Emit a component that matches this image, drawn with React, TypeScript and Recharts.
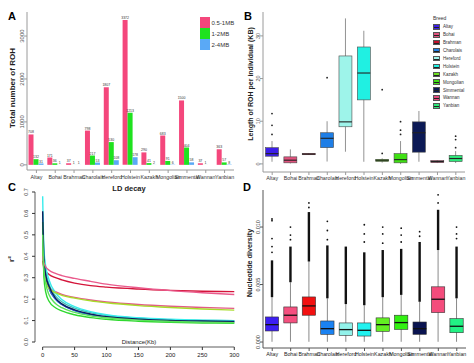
import React from 'react';
import {
  BarChart, Bar, XAxis, YAxis, LabelList, Legend,
  ComposedChart, LineChart, Line, ReferenceLine,
} from 'recharts';

const FONT = '"Liberation Sans", Arial, sans-serif';

const breeds = ['Altay', 'Bohai', 'Brahman', 'Charolais', 'Hereford', 'Holstein', 'Kazakh', 'Mongolian', 'Simmental', 'Wannan', 'Yanbian'];

// A - total number of ROH per length class
const rohClasses = ['0.5-1MB', '1-2MB', '2-4MB'];
const roh05to1 = [708, 171, 37, 798, 1807, 3372, 290, 683, 1500, 37, 363];
const roh1to2 = [132, 36, 1, 217, 530, 1213, 41, 91, 404, 1, 57];
const roh2to4 = [31, 1, 1, 53, 108, 178, 2, 6, 58, 0, 8];
const rohTicks = [0, 1000, 2000, 3000];

// B - length of ROH per individual (box stats)
const lenLow = [0.5, 0.1, 2.1, 0.55, 2.85, 0.5, 0.3, 0, 0.5, 0.2, 0.2];
const lenQ1 = [1.8, 0.25, 2.15, 3.8, 8.7, 15.0, 0.6, 0.25, 2.75, 0.3, 0.55];
const lenMed = [2.4, 0.87, 2.3, 6.0, 9.85, 21.3, 0.85, 1.0, 7.3, 0.55, 1.26];
const lenQ3 = [3.8, 1.65, 2.45, 7.3, 25.3, 27.4, 1.05, 2.4, 9.85, 0.8, 2.0];
const lenHigh = [5.35, 3.4, 2.5, 10, 34.1, 31.2, 1.3, 5.35, 12.4, 0.9, 3.0];
const lenOutliers = [[6.9, 9.05, 11.8], [], [], [20.2], [], [], [2.45, 17.4], [6.9, 7.9, 9.9], [], [], [3.8, 5.7, 6.5]];
const lenTicks = [0, 10, 20, 30];

// C - LD decay
const distances = [0, 2, 5, 10, 20, 30, 50, 75, 100, 150, 200, 250, 300];
const ldAltay = [0.55, 0.37, 0.30, 0.25, 0.20, 0.175, 0.148, 0.128, 0.117, 0.106, 0.100, 0.096, 0.094];
const ldBohai = [0.42, 0.33, 0.28, 0.255, 0.235, 0.222, 0.208, 0.196, 0.187, 0.175, 0.167, 0.161, 0.157];
const ldBrahman = [0.38, 0.35, 0.33, 0.315, 0.30, 0.29, 0.275, 0.263, 0.256, 0.247, 0.241, 0.237, 0.235];
const ldCharolais = [0.52, 0.36, 0.30, 0.25, 0.20, 0.175, 0.147, 0.128, 0.117, 0.106, 0.100, 0.097, 0.095];
const ldHereford = [0.60, 0.41, 0.33, 0.27, 0.215, 0.188, 0.158, 0.137, 0.124, 0.111, 0.104, 0.101, 0.099];
const ldHolstein = [0.68, 0.43, 0.35, 0.29, 0.23, 0.198, 0.165, 0.142, 0.127, 0.113, 0.106, 0.102, 0.100];
const ldKazakh = [0.45, 0.33, 0.28, 0.25, 0.23, 0.218, 0.205, 0.192, 0.183, 0.170, 0.161, 0.154, 0.149];
const ldMongolian = [0.56, 0.30, 0.23, 0.19, 0.16, 0.145, 0.127, 0.114, 0.106, 0.097, 0.092, 0.089, 0.087];
const ldSimmental = [0.61, 0.39, 0.31, 0.26, 0.205, 0.178, 0.150, 0.130, 0.118, 0.107, 0.101, 0.098, 0.096];
const ldWannan = [0.40, 0.37, 0.35, 0.335, 0.32, 0.31, 0.297, 0.283, 0.270, 0.253, 0.240, 0.230, 0.222];
const ldYanbian = [0.50, 0.33, 0.27, 0.22, 0.18, 0.16, 0.138, 0.122, 0.113, 0.102, 0.096, 0.092, 0.090];
const ldTicksX = [0, 50, 100, 150, 200, 250, 300];
const ldTicksY = [0, 0.1, 0.2, 0.3, 0.4, 0.5, 0.6, 0.7];

// D - nucleotide diversity (box stats)
const divLow = [0.00002, 0.00002, 0.00002, 0.00002, 0.00002, 0.00002, 0.00002, 0.00002, 0.00002, 0.00002, 0.00002];
const divQ1 = [0.00096, 0.00166, 0.00233, 0.00067, 0.00058, 0.00052, 0.00093, 0.0011, 0.00067, 0.00256, 0.00081];
const divMed = [0.00151, 0.00233, 0.00314, 0.00116, 0.00108, 0.00102, 0.00151, 0.00169, 0.00116, 0.00372, 0.00137];
const divQ3 = [0.00218, 0.00305, 0.00392, 0.00183, 0.00166, 0.00166, 0.0021, 0.00233, 0.00174, 0.0048, 0.00203];
const divHigh = [0.0039, 0.0052, 0.0070, 0.0038, 0.0033, 0.0032, 0.0039, 0.0041, 0.0035, 0.0080, 0.0038];
const divDenseTop = [0.0071, 0.0083, 0.0113, 0.0084, 0.0083, 0.0078, 0.0080, 0.0081, 0.0087, 0.0115, 0.0083];
const divOutliers = [
  [0.0078, 0.0083, 0.0090, 0.01055, 0.0107], [0.0089, 0.0093, 0.0100], [0.0117, 0.0121],
  [0.0089, 0.0097, 0.0105], [], [0.0087, 0.0094, 0.0102], [0.0086, 0.0094, 0.0100],
  [0.0087, 0.0093, 0.0099], [0.0092, 0.0096], [0.0121, 0.0128], [0.0090, 0.0094, 0.0100],
];
const divTicks = [0, 0.005, 0.01];

// colours
const rohColors = ['#f4477c', '#1fe21f', '#5aa9f6'];
const boxColorsB = ['#3c1ee8', '#e2527e', '#c4102c', '#1e7ee6', '#9ef4ea', '#20f0e2', '#6ee020', '#40e014', '#0c1a56', '#e24a7a', '#2ee87a'];
const boxColorsD = ['#3c1ef2', '#f4507f', '#f21010', '#1a82f2', '#92f2ea', '#22f2f0', '#62f022', '#32f012', '#0a1450', '#f44c7c', '#22f284'];
const lineColors = ['#3a2ae0', '#e25c86', '#d4143a', '#2a7ad8', '#3cc0b8', '#38ecec', '#a8dc2a', '#2ed82e', '#0e1c5c', '#ea5a8c', '#5ce05c'];

const rohData = breeds.map((breed, i) => ({ breed, a: roh05to1[i], b: roh1to2[i], c: roh2to4[i] }));

const lenData = breeds.map((breed, i) => {
  const top = Math.max(lenHigh[i], ...lenOutliers[i]);
  return { breed, lo: lenLow[i], q1: lenQ1[i], med: lenMed[i], q3: lenQ3[i], hi: lenHigh[i], out: lenOutliers[i], range: [lenLow[i], top] };
});

const ldSeries = [ldAltay, ldBohai, ldBrahman, ldCharolais, ldHereford, ldHolstein, ldKazakh, ldMongolian, ldSimmental, ldWannan, ldYanbian];
const ldData = distances.map((d, j) => {
  const row: any = { d };
  breeds.forEach((b, i) => { row[b] = ldSeries[i][j]; });
  return row;
});

const divData = breeds.map((breed, i) => {
  const top = Math.max(divDenseTop[i], ...divOutliers[i]);
  return { breed, lo: divLow[i], q1: divQ1[i], med: divMed[i], q3: divQ3[i], hi: divHigh[i], dense: divDenseTop[i], out: divOutliers[i], range: [divLow[i], top] };
});

const XTick = (p: any) => (
  <text x={p.x} y={p.y + (p.dyy ?? 5)} textAnchor="middle" fontSize={p.fs ?? 5.3} fill={p.fill ?? '#333'} fontFamily={FONT}>
    {p.payload.value}
  </text>
);

const RotYTick = (p: any) => (
  <text x={p.x} y={p.y} transform={`rotate(-90 ${p.x} ${p.y})`} textAnchor="middle" fontSize={p.fs ?? 5.5} fill={p.fill ?? '#444'} fontFamily={FONT}>
    {p.fmt ? p.fmt(p.payload.value) : p.payload.value}
  </text>
);

const BoxB = (props: any) => {
  const { x, y, width, height, payload } = props;
  const [lo, top] = payload.range;
  const py = (v: number) => y + ((top - v) / (top - lo)) * height;
  const cx = x + width / 2;
  const bw = width * 0.72;
  const fill = boxColorsB[breeds.indexOf(payload.breed)];
  return (
    <g>
      <line x1={cx} x2={cx} y1={py(payload.hi)} y2={py(payload.lo)} stroke="#777" strokeWidth={0.8} />
      <rect x={cx - bw / 2} y={py(payload.q3)} width={bw} height={Math.max(py(payload.q1) - py(payload.q3), 0.8)} fill={fill} stroke="#4a4a4a" strokeWidth={0.6} />
      <line x1={cx - bw / 2} x2={cx + bw / 2} y1={py(payload.med)} y2={py(payload.med)} stroke="#222" strokeWidth={1.1} />
      {payload.out.map((v: number, k: number) => (
        <circle key={k} cx={cx} cy={py(v)} r={0.9} fill="#222" />
      ))}
    </g>
  );
};

const BoxD = (props: any) => {
  const { x, y, width, height, payload } = props;
  const [lo, top] = payload.range;
  const py = (v: number) => y + ((top - v) / (top - lo)) * height;
  const cx = x + width / 2;
  const bw = width * 0.74;
  const fill = boxColorsD[breeds.indexOf(payload.breed)];
  return (
    <g>
      <line x1={cx} x2={cx} y1={py(payload.hi)} y2={py(payload.lo)} stroke="#8a8a8a" strokeWidth={1} />
      <rect x={cx - 1.2} y={py(payload.dense)} width={2.4} height={py(payload.hi) - py(payload.dense)} fill="#111" />
      {payload.out.map((v: number, k: number) => (
        <circle key={k} cx={cx} cy={py(v)} r={0.9} fill="#111" />
      ))}
      <rect x={cx - bw / 2} y={py(payload.q3)} width={bw} height={py(payload.q1) - py(payload.q3)} fill={fill} stroke="#333" strokeWidth={0.6} />
      <line x1={cx - bw / 2} x2={cx + bw / 2} y1={py(payload.med)} y2={py(payload.med)} stroke="#111" strokeWidth={1.3} />
    </g>
  );
};

const LegendA = () => (
  <div style={{ fontFamily: FONT, fontSize: 6, color: '#333' }}>
    {rohClasses.map((n, i) => (
      <div key={n} style={{ display: 'flex', alignItems: 'center', height: 11 }}>
        <span style={{ display: 'inline-block', width: 9.5, height: 11, background: rohColors[i], marginRight: 2 }} />
        {n}
      </div>
    ))}
  </div>
);

const LegendB = () => (
  <div style={{ fontFamily: FONT, fontSize: 4.5, color: '#333' }}>
    <div style={{ height: 8, fontSize: 5 }}>Breed</div>
    {breeds.map((n, i) => (
      <div key={n} style={{ display: 'flex', alignItems: 'center', height: 7.9 }}>
        <span style={{ position: 'relative', display: 'inline-block', width: 7, height: 5.5, background: boxColorsB[i], border: '0.5px solid #555', marginRight: 3, boxSizing: 'border-box' }}>
          <span style={{ position: 'absolute', left: 0, right: 0, top: 2, height: 0.6, background: '#222' }} />
        </span>
        {n}
      </div>
    ))}
  </div>
);

const frame = '#9a9a9a';

const PanelA = () => (
  <BarChart width={237} height={185} data={rohData} margin={{ top: 12, right: 3, left: 0, bottom: 0 }} barCategoryGap="8%" barGap={0}>
    <XAxis dataKey="breed" interval={0} height={15} tickSize={3} tickMargin={0} stroke={frame}
      tick={(p: any) => <XTick {...p} dyy={6} fill="#333" />} />
    <XAxis xAxisId="top" orientation="top" dataKey="breed" height={0} tick={false} tickLine={false} stroke={frame} />
    <YAxis width={27} domain={[-120, 3560]} ticks={rohTicks} interval={0} allowDataOverflow tickSize={3} tickMargin={0} stroke={frame}
      tick={(p: any) => <RotYTick {...p} fs={6} fill="#555" />} />
    <YAxis yAxisId="right" orientation="right" width={0} tick={false} tickLine={false} stroke={frame} />
    <Legend layout="horizontal" verticalAlign="middle" align="center" wrapperStyle={{ left: 200, top: 17, width: 36 }} content={() => <LegendA />} />
    <Bar dataKey="a" name={rohClasses[0]} fill={rohColors[0]} isAnimationActive={false}>
      <LabelList dataKey="a" position="top" offset={1} fontSize={3.5} fill="#333" />
    </Bar>
    <Bar dataKey="b" name={rohClasses[1]} fill={rohColors[1]} isAnimationActive={false}>
      <LabelList dataKey="b" position="top" offset={1} fontSize={3.5} fill="#333" />
    </Bar>
    <Bar dataKey="c" name={rohClasses[2]} fill={rohColors[2]} isAnimationActive={false}>
      <LabelList dataKey="c" position="top" offset={1} fontSize={3.5} fill="#333" />
    </Bar>
  </BarChart>
);

const PanelB = () => (
  <ComposedChart width={237} height={185} data={lenData} margin={{ top: 12, right: 9, left: 0, bottom: 0 }} barCategoryGap="0%">
    <XAxis dataKey="breed" interval={0} height={13} tickSize={3} tickMargin={0} stroke={frame}
      tick={(p: any) => <XTick {...p} dyy={4.5} fill="#333" />} />
    <XAxis xAxisId="top" orientation="top" dataKey="breed" height={0} tick={false} tickLine={false} stroke={frame} />
    <YAxis width={26} domain={[-1.9, 35.6]} ticks={lenTicks} interval={0} allowDataOverflow tickSize={3} tickMargin={0} stroke={frame}
      tick={(p: any) => <RotYTick {...p} fs={5.5} fill="#555" />} />
    <YAxis yAxisId="right" orientation="right" width={0} tick={false} tickLine={false} stroke={frame} />
    <Legend layout="horizontal" verticalAlign="middle" align="center" wrapperStyle={{ left: 196, top: 15, width: 36 }} content={() => <LegendB />} />
    <Bar dataKey="range" shape={BoxB} isAnimationActive={false} />
  </ComposedChart>
);

const PanelC = () => (
  <LineChart width={245} height={178} data={ldData} margin={{ top: 5, right: 9, left: 0, bottom: 0 }}>
    <XAxis dataKey="d" type="number" domain={[-12, 302.7]} ticks={ldTicksX} interval={0} allowDataOverflow height={16}
      axisLine={false} tickSize={3} tickMargin={0} stroke="#333"
      tick={(p: any) => <XTick {...p} dyy={7} fs={6} fill="#222" />} />
    <YAxis width={35} domain={[-0.0233, 0.7093]} ticks={ldTicksY} interval={0} allowDataOverflow axisLine={false}
      tickSize={3} tickMargin={4} stroke="#333"
      tick={(p: any) => <RotYTick {...p} fs={5.5} fill="#333" fmt={(v: number) => v.toFixed(1)} />} />
    <ReferenceLine segment={[{ x: 0, y: -0.0233 }, { x: 300, y: -0.0233 }]} stroke="#333" strokeWidth={0.8} ifOverflow="visible" />
    <ReferenceLine segment={[{ x: -12, y: 0 }, { x: -12, y: 0.7 }]} stroke="#333" strokeWidth={0.8} ifOverflow="visible" />
    {breeds.map((b, i) => (
      <Line key={b} dataKey={b} type="monotone" stroke={lineColors[i]} strokeWidth={1.4} dot={false} isAnimationActive={false} />
    ))}
  </LineChart>
);

const PanelD = () => (
  <ComposedChart width={237} height={178} data={divData} margin={{ top: 5, right: 8, left: 0, bottom: 0 }} barCategoryGap="0%">
    <XAxis dataKey="breed" interval={0} height={15} tickSize={3} tickMargin={0} stroke="#555"
      tick={(p: any) => <XTick {...p} dyy={4.5} fill="#222" />} />
    <YAxis width={26} domain={[-0.00052, 0.01322]} ticks={divTicks} interval={0} allowDataOverflow tickSize={3} tickMargin={0} stroke="#555"
      tick={(p: any) => <RotYTick {...p} fs={5.5} fill="#333" fmt={(v: number) => v.toFixed(3)} />} />
    <YAxis yAxisId="right" orientation="right" width={0} tick={false} tickLine={false} stroke="#999" />
    <Bar dataKey="range" shape={BoxD} isAnimationActive={false} />
  </ComposedChart>
);

export default function App() {
  return (
    <div style={{ position: 'fixed', left: 0, top: 0, width: 474, height: 363, background: '#fff', fontFamily: FONT }}>
      <div style={{ position: 'absolute', left: 0, top: 0 }}><PanelA /></div>
      <div style={{ position: 'absolute', left: 237, top: 0 }}><PanelB /></div>
      <div style={{ position: 'absolute', left: 0, top: 185 }}><PanelC /></div>
      <div style={{ position: 'absolute', left: 237, top: 185 }}><PanelD /></div>
      <svg width={474} height={363} style={{ position: 'absolute', left: 0, top: 0, pointerEvents: 'none' }} fontFamily={FONT}>
        <text x={8} y={20} fontSize={11} fontWeight="bold">A</text>
        <text x={244} y={20} fontSize={11} fontWeight="bold">B</text>
        <text x={8} y={191} fontSize={11} fontWeight="bold">C</text>
        <text x={243} y={191} fontSize={11} fontWeight="bold">D</text>
        <text x={14.5} y={88} transform="rotate(-90 14.5 88)" textAnchor="middle" fontSize={8} fontWeight="bold" fill="#222">Total number of ROH</text>
        <text x={252.5} y={84} transform="rotate(-90 252.5 84)" textAnchor="middle" fontSize={7} fontWeight="bold" fill="#222">Length of ROH per individual (KB)</text>
        <text x={252} y={263} transform="rotate(-90 252 263)" textAnchor="middle" fontSize={7.2} fontWeight="bold" fill="#222">Nucleotide diversity</text>
        <text x={14} y={259} transform="rotate(-90 14 259)" textAnchor="middle" fontSize={8} fontWeight="bold" fill="#222">r²</text>
        <text x={129} y={191} textAnchor="middle" fontSize={7.5} fontWeight="bold" fill="#222">LD decay</text>
        <text x={139} y={344} textAnchor="middle" fontSize={6} fill="#222">Distance(Kb)</text>
      </svg>
    </div>
  );
}
